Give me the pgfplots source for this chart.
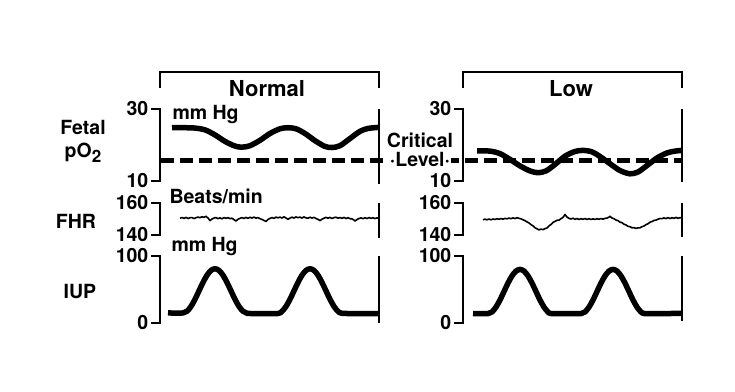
\documentclass[border=0pt]{standalone}
\usepackage{pgfplots}
\pgfplotsset{compat=1.18}
\usepackage{fontspec}
\setmainfont{TeX Gyre Heros}
\newcommand\lbl{\fontsize{19.5}{21}\selectfont\bfseries}
\newcommand\tck{\fontsize{19.5}{21}\selectfont\bfseries}
\newcommand\ttl{\fontsize{22}{24}\selectfont\bfseries}
\pgfplotsset{
  panel/.style={
    scale only axis, width=219pt, anchor=south west,
    xmin=0, xmax=219, clip=false,
    axis x line=none, axis y line=left,
    y axis line style={-, line width=2.6pt, line cap=rect},
    xtick=\empty,
    tick align=outside, major tick length=9pt,
    ytick style={line width=2.6pt, black},
    yticklabel style={font=\tck, inner xsep=2.5pt},
    /pgf/number format/assume math mode=true,
  },
  po2/.style={panel, height=72pt, ymin=10, ymax=30, ytick={10,30}},
  fhr/.style={panel, height=32pt, ymin=140, ymax=160, ytick={140,160}},
  iup/.style={panel, height=67pt, ymin=0, ymax=100, ytick={0,100},
    axis x line=bottom, x axis line style={-, line width=2.6pt}},
  thick curve/.style={black, line width=5.5pt, smooth, line join=round},
  thin trace/.style={black, line width=1.6pt, line join=round},
}
\begin{document}
\begin{tikzpicture}
\path[use as bounding box] (0pt,0pt) rectangle (735pt,391pt);

% ---------------- Normal ----------------
\begin{axis}[po2, at={(160pt,210pt)}]
\addplot[black, line width=4.2pt, dash pattern=on 12.5pt off 6.5pt] coordinates {(1,15.7) (521,15.7)};
\addplot[thick curve] coordinates {(12,24.8) (25,24.8) (35,24.7) (45,24.2) (55,22.8) (65,21.0) (75,19.7) (82,19.4) (90,19.8) (100,21.3) (110,23.2) (120,24.5) (128,24.8) (136,24.5) (145,23.2) (155,21.2) (165,19.6) (172,19.3) (180,19.8) (190,21.8) (200,23.8) (208,24.6) (219,24.9)};
\draw[line width=2.6pt] (axis cs:219,9.3) -- (axis cs:219,30);
\end{axis}

\begin{axis}[fhr, at={(160pt,156pt)}]
\addplot[thin trace] coordinates {(20,150.5) (22,150.9) (24,150.4) (26,151.0) (28,150.3) (30,150.8) (32,150.9) (34,150.3) (36,150.8) (38,151.2) (40,150.8) (42,151.4) (44,151.0) (46,151.7) (48,150.6) (50,149.0) (52,150.0) (54,150.6) (56,150.9) (58,150.2) (60,150.7) (62,150.1) (64,150.9) (66,150.4) (68,150.9) (70,150.2) (72,150.5) (74,149.6) (76,148.7) (78,149.9) (80,150.4) (82,150.9) (84,150.3) (86,151.0) (88,150.4) (90,151.1) (92,150.6) (94,151.2) (96,150.5) (98,150.9) (100,150.2) (102,149.7) (104,149.1) (106,148.5) (108,149.7) (110,150.4) (112,150.9) (114,150.4) (116,151.2) (118,150.7) (120,151.2) (122,150.6) (124,151.4) (126,150.6) (128,149.8) (130,150.6) (132,151.1) (134,150.6) (136,151.3) (138,150.8) (140,151.2) (142,150.6) (144,151.3) (146,150.7) (148,150.5) (150,151.1) (152,150.6) (154,151.0) (156,150.3) (158,149.8) (160,149.0) (162,149.9) (164,150.5) (166,151.0) (168,150.5) (170,151.0) (172,150.3) (174,150.9) (176,151.1) (178,150.5) (180,150.9) (182,150.4) (184,151.0) (186,150.3) (188,150.8) (190,150.2) (192,150.1) (194,149.3) (195,148.7) (197,149.7) (199,150.3) (201,150.7) (203,150.2) (205,150.8) (207,150.3) (209,150.9) (211,150.4) (213,150.8) (215,150.3) (217,150.7) (219,150.5)};
\draw[line width=2.6pt] (axis cs:219,138) -- (axis cs:219,160);
\end{axis}

\begin{axis}[iup, at={(160pt,68pt)}]
\addplot[thick curve] coordinates {(8,15) (23,15) (27,17.5) (31,24.7) (35,35.4) (39,48) (43,60.6) (47,71.3) (51,78.5) (55,81) (59,78.5) (63,71.3) (67,60.6) (71,48) (75,35.4) (79,24.7) (83,17.5) (87,14.5) (100,14) (118,14.2) (122,17.5) (126,24.7) (130,35.4) (134,48) (138,60.6) (142,71.3) (146,78.5) (150,81) (154,78.5) (158,71.3) (162,60.6) (166,48) (170,35.4) (174,24.7) (178,17.5) (182,14.5) (200,14) (219,14)};
\draw[line width=2.6pt] (axis cs:219,0) -- (axis cs:219,100);
\end{axis}

% ---------------- Low ----------------
\begin{axis}[po2, at={(463pt,210pt)}]
\addplot[thick curve] coordinates {(14,18.4) (27,18.3) (37,17.6) (47,16.0) (57,14.2) (67,12.8) (75,12.3) (83,12.8) (92,14.6) (102,16.9) (112,18.2) (120,18.5) (129,18.1) (137,16.8) (147,14.8) (157,12.9) (167,12.0) (175,12.5) (184,14.3) (194,16.4) (204,17.8) (212,18.3) (219,18.5)};
\draw[line width=2.6pt] (axis cs:219,9.8) -- (axis cs:219,30);
\end{axis}

\begin{axis}[fhr, at={(463pt,156pt)}]
\addplot[thin trace] coordinates {(20,149.5) (22,149.9) (24,149.5) (26,150.0) (28,149.5) (30,150.0) (32,149.7) (34,150.2) (36,149.8) (38,150.3) (40,149.9) (42,150.4) (44,150.1) (46,150.6) (48,150.2) (50,150.7) (52,150.3) (54,150.8) (56,150.4) (58,150.1) (60,149.5) (62,149.0) (64,148.2) (66,147.5) (68,146.5) (70,145.7) (72,144.5) (74,143.9) (76,143.2) (78,143.7) (80,143.3) (82,144.0) (84,144.4) (86,145.7) (88,146.6) (90,147.9) (92,148.5) (94,149.2) (96,149.3) (98,150.2) (100,151.0) (102,152.8) (104,151.2) (106,150.4) (108,150.0) (110,150.5) (112,149.8) (114,150.3) (116,149.7) (118,150.2) (120,149.8) (122,150.3) (124,149.7) (126,150.2) (128,149.7) (130,150.1) (132,149.7) (134,150.2) (136,149.8) (138,150.3) (140,149.9) (142,150.4) (144,150.6) (146,151.2) (147,151.7) (149,150.6) (151,150.2) (153,149.3) (155,149.0) (157,148.0) (159,147.7) (161,146.7) (163,146.3) (165,145.4) (167,145.2) (169,144.5) (171,144.6) (173,144.1) (175,144.5) (177,144.5) (179,145.2) (181,145.6) (183,146.5) (185,147.0) (187,148.0) (189,148.4) (191,149.1) (193,149.3) (195,149.9) (197,150.3) (199,150.2) (201,150.7) (203,150.2) (205,150.9) (207,150.3) (209,150.8) (211,150.4) (213,151.0) (215,150.4) (217,150.9) (219,150.6)};
\draw[line width=2.6pt] (axis cs:219,138.5) -- (axis cs:219,160);
\end{axis}

\begin{axis}[iup, at={(463pt,68pt)}]
\addplot[thick curve] coordinates {(10,14) (25,14) (29,16.5) (33,23.7) (37,34.4) (41,47) (45,59.6) (49,70.3) (53,77.5) (57,80) (61,77.5) (65,70.3) (69,59.6) (73,47) (77,34.4) (81,23.7) (85,16.5) (89,14) (110,14) (118,14) (122,16.5) (126,23.7) (130,34.4) (134,47) (138,59.6) (142,70.3) (146,77.5) (150,80) (154,77.5) (158,70.3) (162,59.6) (166,47) (170,34.4) (174,23.7) (178,16.5) (182,14) (200,14) (219,14.5)};
\draw[line width=2.6pt] (axis cs:219,3) -- (axis cs:219,100);
\end{axis}

% ---------------- headers and labels ----------------
\draw[line width=2.6pt] (160pt,303pt) |- (379pt,319pt) -- (379pt,303pt);
\draw[line width=2.6pt] (463pt,303pt) |- (682pt,319pt) -- (682pt,303pt);
\node[anchor=base, font=\ttl] at (267pt,294pt) {Normal};
\node[anchor=base, font=\ttl] at (571pt,294pt) {Low};

\node[anchor=base west, font=\lbl] at (169pt,271pt) {mm Hg};
\node[anchor=base west, font=\lbl] at (166pt,187pt) {Beats/min};
\node[anchor=base west, font=\lbl] at (168pt,140pt) {mm Hg};

\node[anchor=base, font=\lbl] at (83pt,256pt) {Fetal};
\node[anchor=base, font=\lbl] at (83pt,233pt) {pO\raisebox{-5pt}{\fontsize{17}{17}\selectfont\bfseries 2}};
\node[anchor=base, font=\lbl] at (76pt,163pt) {FHR};
\node[anchor=base, font=\lbl] at (80pt,93pt) {IUP};

\node[anchor=base, font=\lbl] at (420pt,243pt) {Critical};
\node[anchor=base, font=\lbl, fill=white, inner xsep=1pt, inner ysep=0pt] at (420pt,224pt) {·Level·};
\end{tikzpicture}
\end{document}
